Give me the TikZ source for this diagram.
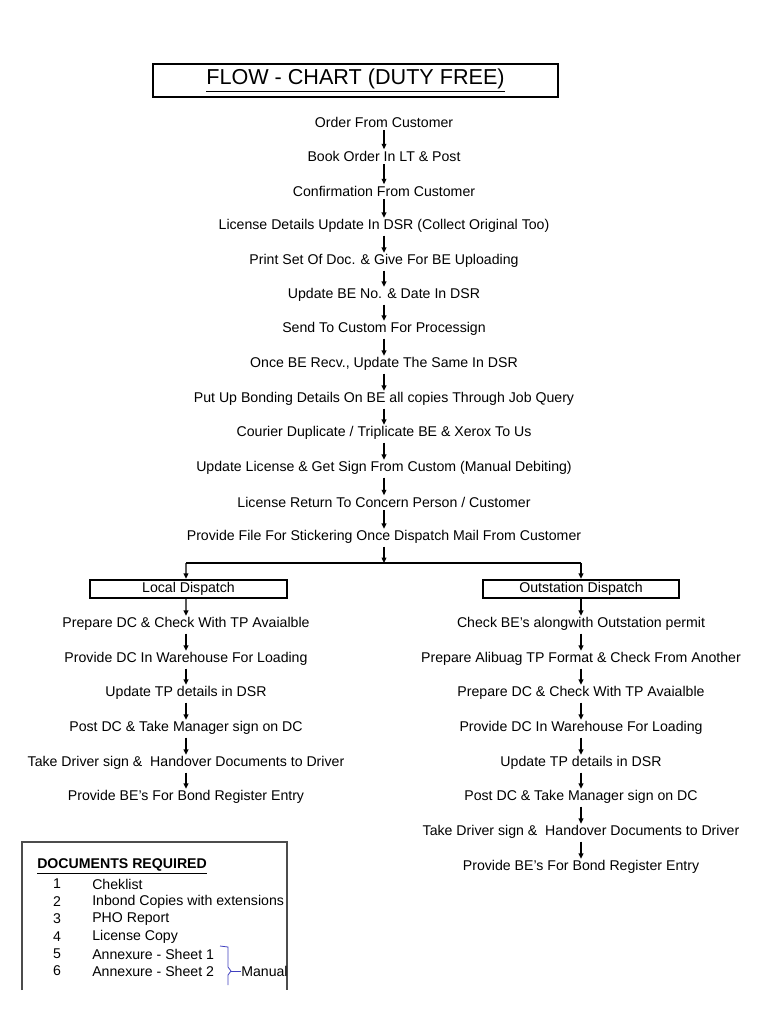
\documentclass[tikz,border=0pt]{standalone}
\usepackage{fontspec}
\setmainfont{Liberation Sans}
\usetikzlibrary{arrows.meta}
\begin{document}
\begin{tikzpicture}[x=0.75pt,y=-0.75pt,
  txt/.style={inner sep=0pt,font=\fontsize{10.6}{12}\selectfont},
  arr/.style={-{Triangle[length=4pt,width=3.5pt]},line width=0.9pt},
  dbox/.style={draw,line width=0.8pt,minimum height=13.5pt,inner sep=0pt,font=\fontsize{10.6}{12}\selectfont}]
\useasboundingbox (0,0) rectangle (768,1024);
\node[draw,line width=0.8pt,minimum width=303.75pt,minimum height=24.75pt,font=\fontsize{16.2}{19}\selectfont] (title) at (355.5,80.5) {\underline{FLOW - CHART (DUTY FREE)}};
\foreach \i/\y/\t in {1/122/{Order From Customer},2/156/{Book Order In LT \& Post},3/191/{Confirmation From Customer},4/226/{License Details Update In DSR (Collect Original Too)},5/261/{Print Set Of Doc. \& Give For BE Uploading},6/295/{Update BE No. \& Date In DSR},7/329/{Send To Custom For Processign},8/364/{Once BE Recv., Update The Same In DSR},9/399/{Put Up Bonding Details On BE all copies Through Job Query},10/433/{Courier Duplicate / Triplicate BE \& Xerox To Us},11/468/{Update License \& Get Sign From Custom (Manual Debiting)},12/502/{License Return To Concern Person / Customer},13/537/{Provide File For Stickering Once Dispatch Mail From Customer}}
  \node[txt] (m\i) at (384,\y) {\t};
\foreach \i [count=\j from 2] in {1,...,12}
  \draw[arr] ([yshift=-2pt]m\i.south) -- ([yshift=1pt]m\j.north);
\node[dbox,minimum width=147.75pt] (loc) at (188.5,589) {Local Dispatch};
\node[dbox,minimum width=147pt] (out) at (581,589) {Outstation Dispatch};
\coordinate (sp) at (384,563);
\coordinate (spl) at (186,563);
\coordinate (spr) at (581,563);
\draw[arr] ([yshift=-2pt]m13.south) -- (sp);
\draw[line width=0.9pt] (spl) -- (spr);
\draw[arr] (spl) -- ([xshift=-1.9pt,yshift=0.5pt]loc.north);
\draw[arr] (spr) -- ([yshift=0.5pt]out.north);
\foreach \i/\y/\t in {1/624/{Prepare DC \& Check With TP Avaialble},2/659/{Provide DC In Warehouse For Loading},3/693/{Update TP details in DSR},4/728/{Post DC \& Take Manager sign on DC},5/763/{Take Driver sign \&\ \ Handover Documents to Driver},6/797/{Provide BE's For Bond Register Entry}}
  \node[txt] (l\i) at (186,\y) {\t};
\foreach \i/\y/\t in {1/624/{Check BE's alongwith Outstation permit},2/659/{Prepare Alibuag TP Format \& Check From Another},3/693/{Prepare DC \& Check With TP Avaialble},4/728/{Provide DC In Warehouse For Loading},5/763/{Update TP details in DSR},6/797/{Post DC \& Take Manager sign on DC},7/832/{Take Driver sign \&\ \ Handover Documents to Driver},8/867/{Provide BE's For Bond Register Entry}}
  \node[txt] (o\i) at (581,\y) {\t};
\draw[arr] ([xshift=-1.9pt]loc.south) -- ([yshift=1pt]l1.north);
\draw[arr] (out.south) -- ([yshift=1pt]o1.north);
\foreach \i [count=\j from 2] in {1,...,5}
  \draw[arr] ([yshift=-2pt]l\i.south) -- ([yshift=1pt]l\j.north);
\foreach \i [count=\j from 2] in {1,...,7}
  \draw[arr] ([yshift=-2pt]o\i.south) -- ([yshift=1pt]o\j.north);
% documents box
\draw[line width=0.8pt,gray!60!black] (22,990) -- (22,842) -- (287,842) -- (287,990);
\node[txt,anchor=west,font=\bfseries\fontsize{10.6}{12}\selectfont] (dh) at (37,866) {\underline{DOCUMENTS REQUIRED}};
\foreach \i/\y/\t in {1/884/{Cheklist},2/902/{Inbond Copies with extensions},3/919/{PHO Report},4/937/{License Copy},5/954/{Annexure - Sheet 1},6/971/{Annexure - Sheet 2}}{
  \node[txt] (n\i) at (57,\y) {\i};
  \node[txt,anchor=west] (d\i) at (92,\y) {\t};}
\node[txt,anchor=west] (man) at (241,971) {Manual};
\draw[color=blue!50!gray,line width=0.6pt] (220,946) -- (228,947) -- (228,967) -- (231,971) -- (228,975) -- (228,985);
\draw[color=blue!50!gray,line width=0.6pt] (231,971) -- (man.west);
\end{tikzpicture}
\end{document}
